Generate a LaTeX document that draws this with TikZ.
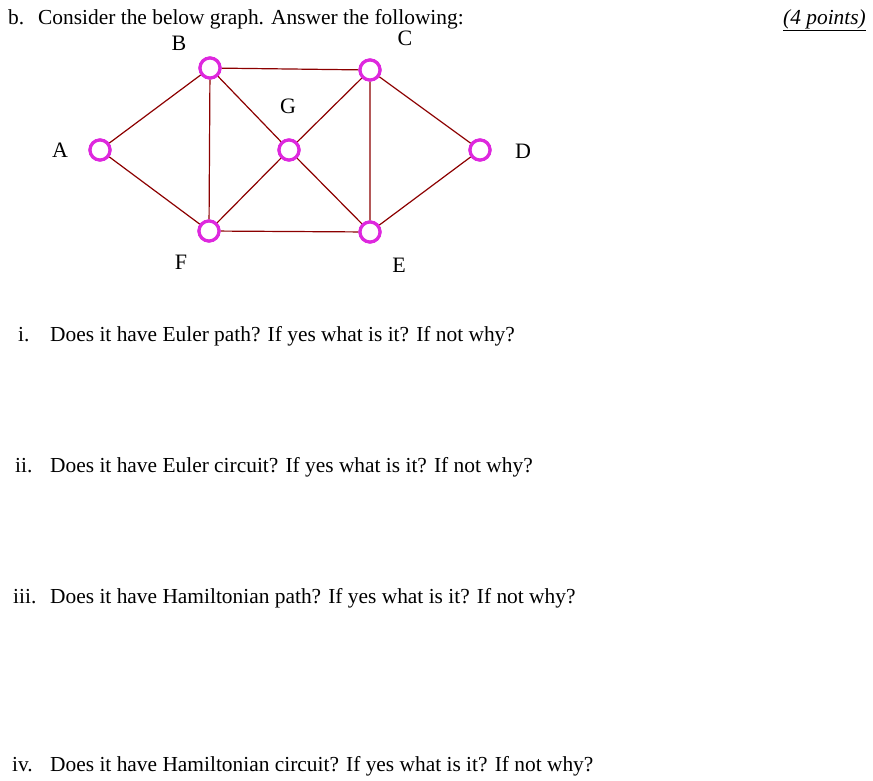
\documentclass[tikz,border=0pt]{standalone}
\usepackage{fontspec}
\setmainfont{Liberation Serif}
\definecolor{vcol}{RGB}{222,40,222}
\begin{document}
\begin{tikzpicture}[x=1pt,y=-1pt,
  vert/.style={circle,draw=vcol,line width=3.2pt,fill=white,minimum size=20pt,inner sep=0pt},
  edge/.style={draw=red!55!black,line width=1.2pt},
  lab/.style={font=\fontsize{22}{24}\selectfont},
  txt/.style={anchor=base west,inner sep=0pt,font=\fontsize{21.4}{24}\selectfont}]
\useasboundingbox (0,0) rectangle (873,780);
\node[vert] (A) at (100,150) {};
\node[vert] (B) at (210,68) {};
\node[vert] (C) at (370,70) {};
\node[vert] (G) at (289,150) {};
\node[vert] (D) at (480,150) {};
\node[vert] (F) at (209,231) {};
\node[vert] (E) at (370,232) {};
\draw[edge] (A)--(B) (A)--(F) (B)--(C) (B)--(F) (B)--(G) (G)--(E) (C)--(G) (G)--(F) (C)--(E) (C)--(D) (E)--(D) (F)--(E);
\foreach \n in {A,B,C,G,D,F,E} \node[vert] at (\n) {};
\node[lab] (lB) at (179,43) {B};
\node[lab] (lC) at (405,38) {C};
\node[lab] (lG) at (288,106) {G};
\node[lab] (lA) at (60,150) {A};
\node[lab] (lD) at (523,151) {D};
\node[lab] (lF) at (181,262) {F};
\node[lab] (lE) at (399,265) {E};
\node[txt] (hb) at (8,24) {b.};
\node[txt] (h) at (38,24) {Consider the below graph. Answer the following:};
\node[txt] (pts) at (783,24) {\textit{\underline{(4 points)}}};
\node[txt] (i1) at (18,341) {i.};
\node[txt] (q1) at (50,341) {Does it have Euler path? If yes what is it? If not why?};
\node[txt] (i2) at (15,472) {ii.};
\node[txt] (q2) at (50,472) {Does it have Euler circuit? If yes what is it? If not why?};
\node[txt] (i3) at (13,603) {iii.};
\node[txt] (q3) at (50,603) {Does it have Hamiltonian path? If yes what is it? If not why?};
\node[txt] (i4) at (12,771) {iv.};
\node[txt] (q4) at (50,771) {Does it have Hamiltonian circuit? If yes what is it? If not why?};
\end{tikzpicture}
\end{document}
